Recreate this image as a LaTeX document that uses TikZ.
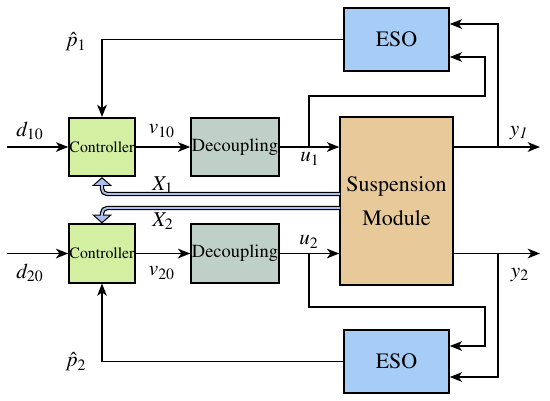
\documentclass[tikz,border=0pt]{standalone}
\usepackage[T1]{fontenc}
\usepackage{mathptmx}
\usetikzlibrary{arrows.meta}

\definecolor{ctrlgreen}{RGB}{211,240,162}
\definecolor{decgray}{RGB}{191,208,200}
\definecolor{susptan}{RGB}{232,202,154}
\definecolor{esoblue}{RGB}{167,204,245}
\definecolor{busblue}{RGB}{168,191,240}

\tikzset{
  block/.style={draw, line width=0.9pt, rectangle, inner sep=0pt, text centered},
  ctrlbox/.style={block, fill=ctrlgreen, minimum width=1.32cm, minimum height=1.17cm, font=\fontsize{9}{10}\selectfont},
  decbox/.style={block, fill=decgray, minimum width=1.76cm, minimum height=1.17cm, font=\fontsize{10.5}{12}\selectfont},
  esobox/.style={block, fill=esoblue, minimum width=2.1cm, minimum height=1.26cm, font=\fontsize{12.5}{14}\selectfont},
  suspbox/.style={block, fill=susptan, minimum width=2.26cm, minimum height=3.36cm, text width=2.2cm, font=\fontsize{12.5}{19}\selectfont},
  sig/.style={line width=0.9pt, -{Stealth[length=7pt,width=5.5pt,inset=2pt]}},
  busout/.style={line width=2.5pt, rounded corners=3pt, -{Triangle[width=11pt,length=5pt]}},
  busin/.style={line width=1.1pt, busblue, rounded corners=3pt, shorten >=0.9pt, -{Triangle[width=8pt,length=3.6pt]}},
  lbl/.style={font=\fontsize{12}{14}\selectfont, inner sep=0pt}
}

\begin{document}
\begin{tikzpicture}[x=0.02cm, y=-0.02cm]
    \useasboundingbox (0,0) rectangle (550,400);

    % blocks
    \node[ctrlbox] (ctrl1) at (102,147) {Controller};
    \node[ctrlbox] (ctrl2) at (102,253.5) {Controller};
    \node[decbox] (dec1) at (235,147) {Decoupling};
    \node[decbox] (dec2) at (235,253.5) {Decoupling};
    \node[suspbox] (susp) at (396.5,201) {Suspension\\ Module};
    \node[esobox] (eso1) at (396.5,39.5) {ESO};
    \node[esobox] (eso2) at (396.5,361.5) {ESO};

    % free ends and branch points
    \coordinate (in1) at (7,147);
    \coordinate (in2) at (7,253.5);
    \coordinate (out1) at (540,147);
    \coordinate (out2) at (540,253.5);
    \coordinate (bu1) at (309,147);
    \coordinate (bu2) at (309,253.5);
    \coordinate (by1) at (498,147);
    \coordinate (by2) at (498,253.5);
    \coordinate (x1src) at (340,194);
    \coordinate (x2src) at (340,208);

    % upper channel
    \draw[sig] (in1) -- (ctrl1.west);
    \draw[sig] (ctrl1) -- (dec1);
    \draw[sig] (dec1) -- (susp.west |- dec1);
    \draw[sig] (susp.east |- dec1) -- (out1);
    \draw[sig] (bu1) |- (485,96) |- ([yshift=-0.35cm]eso1.east);
    \draw[sig] (by1) |- ([yshift=0.31cm]eso1.east);
    \draw[sig] (eso1.west) -| (ctrl1.north);

    % lower channel
    \draw[sig] (in2) -- (ctrl2.west);
    \draw[sig] (ctrl2) -- (dec2);
    \draw[sig] (dec2) -- (susp.west |- dec2);
    \draw[sig] (susp.east |- dec2) -- (out2);
    \draw[sig] (bu2) |- (485,307) |- ([yshift=0.31cm]eso2.east);
    \draw[sig] (by2) |- ([yshift=-0.31cm]eso2.east);
    \draw[sig] (eso2.west) -| (ctrl2.south);

    % state feedback buses
    \draw[busout] (x1src) -| (ctrl1.south);
    \draw[busin] (x1src) -| (ctrl1.south);
    \draw[busout] (x2src) -| (ctrl2.north);
    \draw[busin] (x2src) -| (ctrl2.north);

    % labels
    \node[lbl] (ld10) at (30,131) {$d_{10}$};
    \node[lbl] (lv10) at (162,131) {$v_{10}$};
    \node[lbl] (lu1) at (310,159) {$u_1$};
    \node[lbl] (ly1) at (519,133) {$y_{\mathit{1}}$};
    \node[lbl] (lp1) at (76,42) {$\hat{p}_1$};
    \node[lbl] (lx1) at (163,185) {$X_1$};
    \node[lbl] (lx2) at (163,221) {$X_2$};
    \node[lbl] (ld20) at (30,273) {$d_{20}$};
    \node[lbl] (lv20) at (162,273) {$v_{20}$};
    \node[lbl] (lu2) at (309,242) {$u_2$};
    \node[lbl] (ly2) at (520,275) {$y_2$};
    \node[lbl] (lp2) at (76,362) {$\hat{p}_2$};

\end{tikzpicture}
\end{document}
